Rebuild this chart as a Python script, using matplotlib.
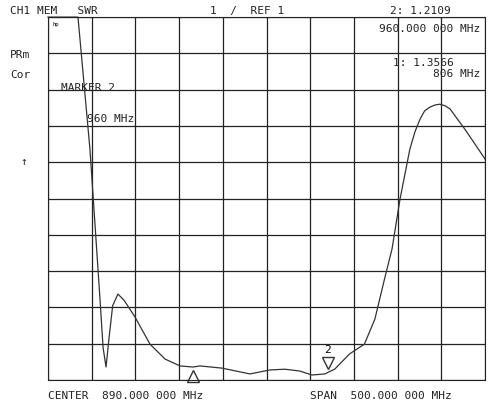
import matplotlib
matplotlib.use("Agg")
import matplotlib.pyplot as plt

freq_mhz = [640, 674.3, 688, 699.5, 703, 706.4, 710, 714, 720, 727, 739.5, 756.7, 773.9, 791, 806, 814, 839,
            871, 894, 911, 928, 942, 957, 960, 968, 985, 1002, 1014, 1025, 1033.6, 1042.8, 1054, 1060,
            1065.7, 1071, 1077, 1083, 1088, 1094, 1100, 1117, 1130, 1140]
swr = [11.0, 11.0, 7.36, 3.23, 1.9, 1.36, 2.2, 3.05, 3.37, 3.2, 2.74, 1.99, 1.58, 1.39, 1.36, 1.39, 1.33,
       1.17, 1.28, 1.30, 1.25, 1.14, 1.17, 1.21, 1.30, 1.72, 1.99, 2.68, 3.78, 4.61, 5.99, 7.36, 7.85,
       8.19, 8.42, 8.52, 8.58, 8.60, 8.56, 8.47, 7.91, 7.45, 7.09]
marker_freqs = [806, 960]
marker_vals = [1.3566, 1.2109]

fig = plt.figure(figsize=(5.0, 4.02), dpi=100)
ax = fig.add_axes([0.096, 0.052, 0.874, 0.903])
ax.set_xlim(640, 1140)
ax.set_ylim(1, 11)
ax.set_xticks([640 + 50 * i for i in range(11)])
ax.set_yticks(range(1, 12))
ax.grid(True, color="#222222", lw=0.9)
ax.tick_params(length=0, labelbottom=False, labelleft=False)
for s in ax.spines.values():
    s.set_color("#222222")
ax.plot(freq_mhz, swr, color="#333333", lw=0.9, clip_on=False)
ax.plot([marker_freqs[0]], [1.12], marker="^", ms=8, mfc="white", mec="#333333", clip_on=False)
ax.plot([marker_freqs[1]], [marker_vals[1] + 0.25], marker="v", ms=8, mfc="white", mec="#333333", clip_on=False)
ax.text(marker_freqs[1], marker_vals[1] + 0.5, "2", ha="center", va="bottom", fontsize=8, family="DejaVu Sans Mono")

mono = dict(family="DejaVu Sans Mono", fontsize=8, color="#222222")
fig.text(0.02, 0.985, "CH1 MEM   SWR", va="top", **mono)
fig.text(0.42, 0.985, "1  /  REF 1", va="top", **mono)
fig.text(0.78, 0.985, "2: 1.2109", va="top", **mono)
fig.text(0.02, 0.875, "PRm", va="top", **mono)
fig.text(0.02, 0.825, "Cor", va="top", **mono)
fig.text(0.04, 0.61, "↑", va="top", **mono)
ax.text(0.01, 0.99, "hp", transform=ax.transAxes, va="top", family="DejaVu Sans Mono", fontsize=4)
ax.text(0.03, 0.82, "MARKER 2", transform=ax.transAxes, va="top", **mono)
ax.text(0.09, 0.735, "960 MHz", transform=ax.transAxes, va="top", **mono)
ax.text(0.99, 0.985, "960.000 000 MHz", transform=ax.transAxes, va="top", ha="right", **mono)
ax.text(0.79, 0.89, "1: 1.3566", transform=ax.transAxes, va="top", **mono)
ax.text(0.99, 0.86, "806 MHz", transform=ax.transAxes, va="top", ha="right", **mono)
fig.text(0.096, 0.003, "CENTER  890.000 000 MHz", va="bottom", **mono)
fig.text(0.62, 0.003, "SPAN  500.000 000 MHz", va="bottom", **mono)
fig.savefig("out.png", dpi=100, facecolor="white")
